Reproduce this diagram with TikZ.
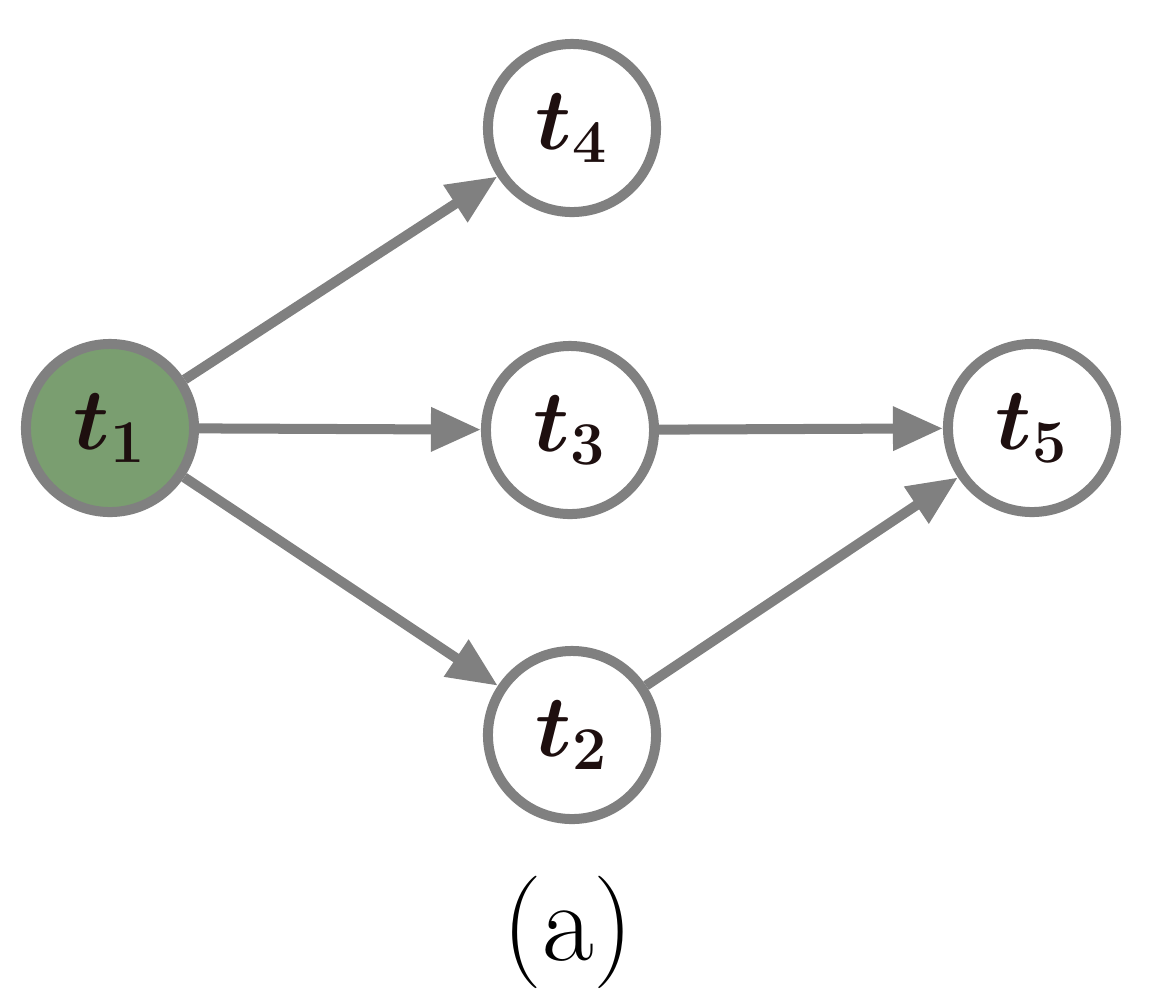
\documentclass[tikz,border=0pt]{standalone}
\usepackage{amsmath,bm}
\usetikzlibrary{arrows.meta}
\definecolor{edgegray}{RGB}{128,128,128}
\definecolor{tgreen}{RGB}{122,158,112}
\definecolor{txt}{RGB}{30,15,15}
\begin{document}
\begin{tikzpicture}[x=0.01cm,y=-0.01cm,
  tnode/.style={circle,draw=edgegray,line width=0.1cm,minimum size=1.68cm,inner sep=0pt,fill=white,text=txt,font=\fontsize{26}{30}\selectfont\bfseries},
  conn/.style={draw=edgegray,line width=0.1cm,-{Triangle[length=0.5cm,width=0.42cm]}}]
\useasboundingbox (0,0) rectangle (1154,1005);
\node[tnode,fill=tgreen] (t1) at (110,428) {$\bm{t_{\scriptstyle\bm 1}}$};
\node[tnode] (t4) at (572,128) {$\bm{t_{\scriptstyle\bm 4}}$};
\node[tnode] (t3) at (570,430) {$\bm{t_{\scriptstyle\bm 3}}$};
\node[tnode] (t5) at (1032,428) {$\bm{t_{\scriptstyle\bm 5}}$};
\node[tnode] (t2) at (572,735) {$\bm{t_{\scriptstyle\bm 2}}$};
\draw[conn] (t1) -- (t4);
\draw[conn] (t1) -- (t3);
\draw[conn] (t1) -- (t2);
\draw[conn] (t3) -- (t5);
\draw[conn] (t2) -- (t5);
\node[font=\fontsize{32}{36}\selectfont] (lab) at (568,932) {(a)};
\end{tikzpicture}
\end{document}
